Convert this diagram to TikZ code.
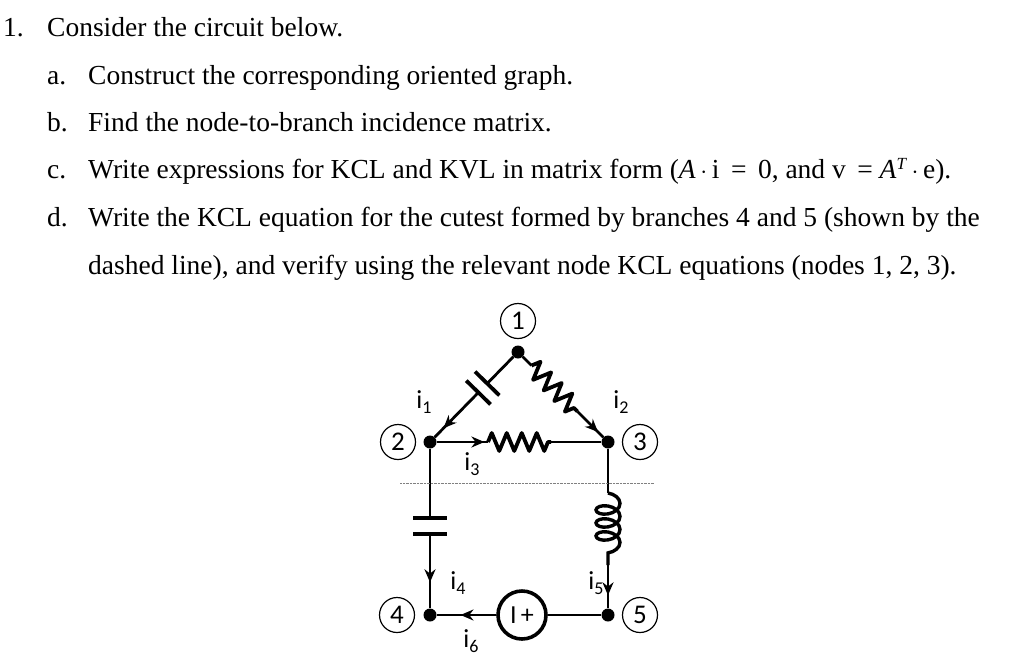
\documentclass[tikz,border=0pt]{standalone}
\usepackage{fontspec}
\setmainfont{Liberation Serif}
\newfontfamily\lblfont{Carlito}
\usetikzlibrary{calc,decorations.pathmorphing,decorations.markings,arrows.meta}
\newcommand\sub[1]{\raisebox{-5pt}{\fontsize{18}{18}\selectfont #1}}
\begin{document}
\begin{tikzpicture}[x=1pt,y=-1pt,
  txt/.style={anchor=base west,inner sep=0,font=\fontsize{27.5}{30}\selectfont},
  lbl/.style={circle,draw,line width=1.2pt,inner sep=0,minimum size=35pt,font=\lblfont\fontsize{27}{28}\selectfont},
  cur/.style={inner sep=0,font=\lblfont\fontsize{26}{26}\selectfont},
  dot/.style={circle,fill,inner sep=0,minimum size=13pt},
  wire/.style={line width=2.8pt},
  elem/.style={line width=3.8pt,line join=round},
  arr/.style={wire,decoration={markings,mark=at position #1 with {\arrow{Stealth[length=13pt,width=11pt]}}},postaction=decorate}]
\useasboundingbox (0,0) rectangle (1024,659);
\node[txt] (t1n) at (3,36) {1.};
\node[txt] (t1) at (47,36) {Consider the circuit below.};
\node[txt] (tan) at (47,84) {a.};
\node[txt] (ta) at (88,84) {Construct the corresponding oriented graph.};
\node[txt] (tbn) at (47,131) {b.};
\node[txt] (tb) at (88,131) {Find the node-to-branch incidence matrix.};
\node[txt] (tcn) at (47,178) {c.};
\node[txt] (tc) at (88,178) {Write expressions for KCL and KVL in matrix form (\textit{A}\,$\cdot$\,i \,=\, 0, and v \,= \textit{A}\raisebox{9pt}{\fontsize{17}{18}\selectfont\textit{T}}\,$\cdot$\,e).};
\node[txt] (tdn) at (47,226) {d.};
\node[txt] (td) at (88,226) {Write the KCL equation for the cutest formed by branches 4 and 5 (shown by the};
\node[txt] (te) at (88,274) {dashed line), and verify using the relevant node KCL equations (nodes 1, 2, 3).};
% nodes
\node[dot] (n1) at (518,352) {};
\node[dot] (n2) at (430,442) {};
\node[dot] (n3) at (608,442) {};
\node[dot] (n4) at (430,615) {};
\node[dot] (n5) at (608,615) {};
\node[lbl] (l1) at (518,321) {1};
\node[lbl] (l2) at (398,442) {2};
\node[lbl] (l3) at (640,442) {3};
\node[lbl] (l4) at (397,615) {4};
\node[lbl] (l5) at (640,615) {5};
% branch 1: capacitor 1->2
\coordinate (c1a) at ($(n1)!0.35!(n2)$);
\coordinate (c1b) at ($(n1)!0.45!(n2)$);
\draw[wire] (n1) -- (c1a);
\draw[arr=0.8] (c1b) -- (n2);
\draw[elem] ($(c1a)!17pt!90:(n1)$) -- ($(c1a)!17pt!-90:(n1)$);
\draw[elem] ($(c1b)!17pt!90:(n1)$) -- ($(c1b)!17pt!-90:(n1)$);
% branch 2: resistor 1->3
\coordinate (r2a) at ($(n1)!0.15!(n3)$);
\coordinate (r2b) at ($(n1)!0.66!(n3)$);
\draw[wire] (n1) -- (r2a);
\draw[elem,decorate,decoration={zigzag,segment length=15pt,amplitude=9pt}] (r2a) -- (r2b);
\draw[arr=0.8] (r2b) -- (n3);
% branch 3: resistor 2->3
\coordinate (r3a) at (488,442);
\coordinate (r3b) at (551,442);
\draw[arr=0.93] (n2) -- (r3a);
\draw[elem,decorate,decoration={zigzag,segment length=15pt,amplitude=9pt}] (r3a) -- (r3b);
\draw[wire] (r3b) -- (n3);
% branch 4: capacitor 2->4
\coordinate (c4a) at (430,518);
\coordinate (c4b) at (430,534);
\draw[wire] (n2) -- (c4a);
\draw[arr=0.65] (c4b) -- (n4);
\draw[elem] (413,518) -- (447,518);
\draw[elem] (413,534) -- (447,534);
% branch 5: inductor 3->5
\coordinate (i5a) at (608,493);
\coordinate (i5b) at (608,565);
\draw[wire] (n3) -- (i5a);
\draw[line width=3.4pt,decorate,decoration={coil,aspect=0.6,segment length=13pt,amplitude=12pt}] (i5a) -- (i5b);
\draw[arr=0.7] (i5b) -- (n5);
% branch 6: source 5->4
\node[circle,draw,line width=3.6pt,minimum size=48pt,inner sep=0,font=\lblfont\fontsize{26}{26}\selectfont] (src) at (522,615) {I\,+};
\draw[wire] (n5) -- (src);
\draw[arr=0.6] (src) -- (n4);
% cutset
\draw[densely dotted,gray,thin] (400,483) -- (654,483);
% current labels
\node[cur] (i1) at (424,402) {i\sub{1}};
\node[cur] (i2) at (621,402) {i\sub{2}};
\node[cur] (i3) at (472,464) {i\sub{3}};
\node[cur] (i4) at (458,583) {i\sub{4}};
\node[cur] (i5) at (596,583) {i\sub{5}};
\node[cur] (i6) at (471,641) {i\sub{6}};
\end{tikzpicture}
\end{document}
